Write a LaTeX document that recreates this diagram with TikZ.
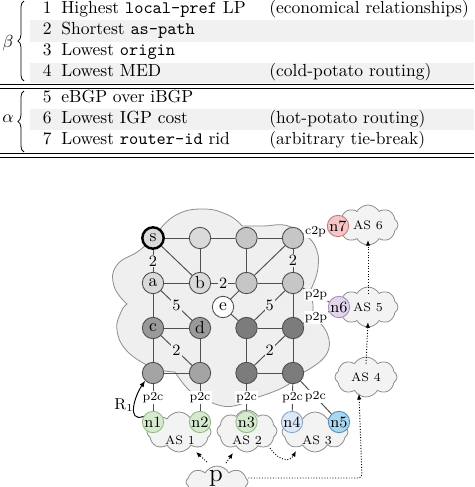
\documentclass[tikz,border=0pt]{standalone}
\usetikzlibrary{decorations.pathreplacing,arrows.meta,shapes.symbols}
\definecolor{edgec}{HTML}{505050}
\definecolor{bigfill}{HTML}{EFEFEF}
\definecolor{asfill}{HTML}{F3F3F3}
\definecolor{cloudline}{HTML}{8C8C8C}
\definecolor{rowshade}{HTML}{F1F1F1}
\definecolor{lightA}{HTML}{DADADA}
\definecolor{lightB}{HTML}{C6C6C6}
\definecolor{midA}{HTML}{9A9A9A}
\definecolor{midB}{HTML}{A4A4A4}
\definecolor{darkA}{HTML}{7C7C7C}
\definecolor{greenF}{HTML}{D5EBCD}
\definecolor{greenD}{HTML}{98B88C}
\definecolor{blueF}{HTML}{DCE8F8}
\definecolor{blueD}{HTML}{8CA6C8}
\definecolor{blueG}{HTML}{A8D8EF}
\definecolor{blueH}{HTML}{5A8EB0}
\definecolor{lavF}{HTML}{E3D5EB}
\definecolor{lavD}{HTML}{A58FB6}
\definecolor{pinkF}{HTML}{F6C6C6}
\definecolor{pinkD}{HTML}{C07E7E}
\def\pxl{0.5714pt}
\begin{document}
\begin{tikzpicture}[x=0.5714pt,y=-0.5714pt,
  rt/.style={circle,draw=edgec,line width=0.5pt,minimum size=12.2pt,inner sep=0pt,font=\normalsize},
  nn/.style={circle,line width=0.5pt,minimum size=12.2pt,inner sep=0pt,font=\small},
  edge/.style={draw=edgec,line width=0.55pt},
  lbl/.style={fill=bigfill,inner sep=0.6pt,font=\small},
  xl/.style={fill=white,inner sep=0.7pt,font=\scriptsize},
  ascloud/.style={cloud,cloud puffs=8,cloud puff arc=120,draw=cloudline,fill=asfill,line width=0.45pt,inner sep=0pt},
  darr/.style={densely dotted,line width=0.55pt,-{Latex[length=3.2pt,width=2.6pt]}},
  numb/.style={anchor=base east,inner sep=0pt},
  txt/.style={anchor=base west,inner sep=0pt},
  brc/.style={decorate,decoration={brace,amplitude=3.5pt},line width=0.45pt}
]
\clip (0,0) rectangle (474,487);
\fill[white] (0,0) rectangle (474,487);

% ---------------- table ----------------
\fill[rowshade] (30,20) rectangle (474,41.5);
\fill[rowshade] (30,62.5) rectangle (474,82.5);
\fill[rowshade] (30,108.5) rectangle (474,129.5);
\draw[line width=0.5pt] (0,84) -- (474,84);
\draw[line width=0.5pt] (0,88) -- (474,88);
\draw[line width=0.5pt] (0,153.5) -- (474,153.5);
\draw[line width=0.8pt] (0,157.5) -- (474,157.5);

\node[inner sep=0pt] (beta) at (8,43) {$\beta$};
\node[inner sep=0pt] (alpha) at (8,119) {$\alpha$};
\draw[brc] (24,81) -- (24,1);
\draw[brc] (24,152) -- (24,91);

\node[numb] (r1n) at (52,13.5) {1};
\node[txt] (r1t) at (61,13.5) {Highest \texttt{local-pref} LP};
\node[txt] (r1c) at (269,13.5) {(economical relationships)};
\node[numb] (r2n) at (52,34.5) {2};
\node[txt] (r2t) at (61,34.5) {Shortest \texttt{as-path}};
\node[numb] (r3n) at (52,55.5) {3};
\node[txt] (r3t) at (61,55.5) {Lowest \texttt{origin}};
\node[numb] (r4n) at (52,76.5) {4};
\node[txt] (r4t) at (61,76.5) {Lowest MED};
\node[txt] (r4c) at (269,76.5) {(cold-potato routing)};
\node[numb] (r5n) at (52,102) {5};
\node[txt] (r5t) at (61,102) {eBGP over iBGP};
\node[numb] (r6n) at (52,123) {6};
\node[txt] (r6t) at (61,123) {Lowest IGP cost};
\node[txt] (r6c) at (269,123) {(hot-potato routing)};
\node[numb] (r7n) at (52,144) {7};
\node[txt] (r7t) at (61,144) {Lowest \texttt{router-id} rid};
\node[txt] (r7c) at (269,144) {(arbitrary tie-break)};

% ---------------- big AS cloud (puffy outline) ----------------
\draw[draw=cloudline,fill=bigfill,line width=0.45pt]
  plot[smooth,tension=0.8] coordinates {(158,232) (176,215) (203,209) (228,215) (242,226)}
  -- plot[smooth,tension=0.8] coordinates {(242,226) (263,226) (284,225) (298,231)}
  -- plot[smooth,tension=0.8] coordinates {(298,231) (314,244) (318,268) (309,293)}
  -- plot[smooth,tension=0.8] coordinates {(309,293) (313,304) (312,316)}
  -- plot[smooth,tension=0.8] coordinates {(312,316) (327,333) (326,355) (304,372)}
  -- plot[smooth,tension=0.8] coordinates {(304,372) (284,387) (255,398)}
  -- plot[smooth,tension=0.8] coordinates {(255,398) (238,405) (222,406) (207,400)}
  -- plot[smooth,tension=0.8] coordinates {(207,400) (190,391) (175,372)}
  -- plot[smooth,tension=0.8] coordinates {(175,372) (160,370) (145,364)}
  -- plot[smooth,tension=0.8] coordinates {(145,364) (126,350) (117,330) (121,312) (127,304)}
  -- plot[smooth,tension=0.8] coordinates {(127,304) (114,286) (117,265) (140,250) (158,232)}
  -- cycle;

% ---------------- external AS clouds ----------------
\node[ascloud,minimum width=64*\pxl,minimum height=40*\pxl] (as1) at (179,432) {};
\node[ascloud,minimum width=60*\pxl,minimum height=42*\pxl] (as2) at (247,431) {};
\node[ascloud,minimum width=66*\pxl,minimum height=40*\pxl] (as3) at (315,432) {};
\node[ascloud,minimum width=62*\pxl,minimum height=40*\pxl] (as4) at (366,377) {};
\node[ascloud,minimum width=60*\pxl,minimum height=40*\pxl] (as5) at (368,307) {};
\node[ascloud,minimum width=60*\pxl,minimum height=40*\pxl] (as6) at (368,225) {};
\node[ascloud,minimum width=62*\pxl,minimum height=32*\pxl] (pc) at (217,482) {};

\node[font=\scriptsize,inner sep=0pt] (as1l) at (180,440) {AS 1};
\node[font=\scriptsize,inner sep=0pt] (as2l) at (247,440) {AS 2};
\node[font=\scriptsize,inner sep=0pt] (as3l) at (317,440) {AS 3};
\node[font=\scriptsize,inner sep=0pt] (as4l) at (366,377) {AS 4};
\node[font=\scriptsize,inner sep=0pt] (as5l) at (368,307) {AS 5};
\node[font=\scriptsize,inner sep=0pt] (as6l) at (368,225) {AS 6};
\node[font=\Large,inner sep=0pt] (pl) at (216,478) {p};

% ---------------- routers ----------------
\node[rt,fill=lightA,draw=black,line width=1.4pt] (s) at (153,238) {s};
\node[rt,fill=lightA] (t2) at (200,238) {};
\node[rt,fill=lightB] (t3) at (246.5,238) {};
\node[rt,fill=lightB] (t4) at (293,238) {};
\node[rt,fill=lightA] (a) at (153,283) {a};
\node[rt,fill=lightA] (b) at (200,283) {b};
\node[rt,fill=lightB] (r23) at (246.5,283) {};
\node[rt,fill=lightB] (r24) at (293,283) {};
\node[rt,fill=white] (e) at (223,307) {e};
\node[rt,fill=midA] (c) at (153,328) {c};
\node[rt,fill=midA] (d) at (200,328) {d};
\node[rt,fill=darkA] (r33) at (246.5,328) {};
\node[rt,fill=darkA] (r34) at (293,328) {};
\node[rt,fill=midB] (q1) at (153,373) {};
\node[rt,fill=midB] (q2) at (200,373) {};
\node[rt,fill=darkA] (q3) at (246.5,373) {};
\node[rt,fill=darkA] (q4) at (293,373) {};

\node[nn,fill=greenF,draw=greenD] (n1) at (153,422) {n1};
\node[nn,fill=greenF,draw=greenD] (n2) at (200,422) {n2};
\node[nn,fill=greenF,draw=greenD] (n3) at (246.5,422) {n3};
\node[nn,fill=blueF,draw=blueD] (n4) at (292,422) {n4};
\node[nn,fill=blueG,draw=blueH] (n5) at (339,422) {n5};
\node[nn,fill=lavF,draw=lavD] (n6) at (339,307) {n6};
\node[nn,fill=pinkF,draw=pinkD] (n7) at (338,226) {n7};

% ---------------- internal links ----------------
\draw[edge] (s) -- (t2);
\draw[edge] (t2) -- (t3);
\draw[edge] (t3) -- (t4);
\draw[edge] (s) -- (b);
\draw[edge] (t2) -- (b);
\draw[edge] (a) -- (b);
\draw[edge] (t3) -- (r23);
\draw[edge] (t4) -- (r23);
\draw[edge] (r23) -- (r24);
\draw[edge] (r23) -- (e);
\draw[edge] (e) -- (r33);
\draw[edge] (r24) -- (r34);
\draw[edge] (r34) -- (q4);
\draw[edge] (r33) -- (r34);
\draw[edge] (r33) -- (q3);
\draw[edge] (q3) -- (q4);
\draw[edge] (a) -- (c);
\draw[edge] (c) -- (d);
\draw[edge] (c) -- (q1);
\draw[edge] (d) -- (q2);
\draw[edge] (q1) -- (q2);
\draw[edge] (s) -- node[lbl] {2} (a);
\draw[edge] (b) -- node[lbl] {2} (r23);
\draw[edge] (t4) -- node[lbl] {2} (r24);
\draw[edge] (a) -- node[lbl] {5} (d);
\draw[edge] (r24) -- node[lbl] {5} (r33);
\draw[edge] (c) -- node[lbl] {2} (q2);
\draw[edge] (q3) -- node[lbl] {2} (r34);

% ---------------- external links ----------------
\draw[edge] (q1) -- node[xl] {p2c} (n1);
\draw[edge] (q2) -- node[xl] {p2c} (n2);
\draw[edge] (q3) -- node[xl] {p2c} (n3);
\draw[edge] (q4) -- node[xl] {p2c} (n4);
\draw[edge] (q4) -- node[xl,pos=0.48] {p2c} (n5);
\draw[edge] (t4) -- node[xl] {c2p} (n7);
\draw[edge] (r24) -- node[xl] {p2p} (n6);
\draw[edge] (r34) -- node[xl] {p2p} (n6);

% R1 arrow
\node[font=\small,inner sep=0pt] (R1) at (124,405) {$\mathrm{R}_1$};
\draw[line width=0.55pt,-{Latex[length=3.5pt,width=2.8pt]}] (n1.150) to[out=200,in=235,looseness=1.3] (q1.225);

% ---------------- dotted propagation arrows ----------------
\draw[darr] ([yshift=-4]as4.north) -- ([yshift=3]as5.south);
\draw[darr] ([yshift=-4]as5.north) -- ([yshift=3]as6.south);
\draw[darr,rounded corners=2pt] (pc.east |- pl) -- (362,478) -- ([xshift=-4,yshift=2]as4.south);
\draw[darr] (207,462) -- (196,452);
\draw[darr] (226,463) -- (233,453);
\draw[darr] (270,448) .. controls (280,462) and (290,462) .. (296,451);
\end{tikzpicture}
\end{document}
